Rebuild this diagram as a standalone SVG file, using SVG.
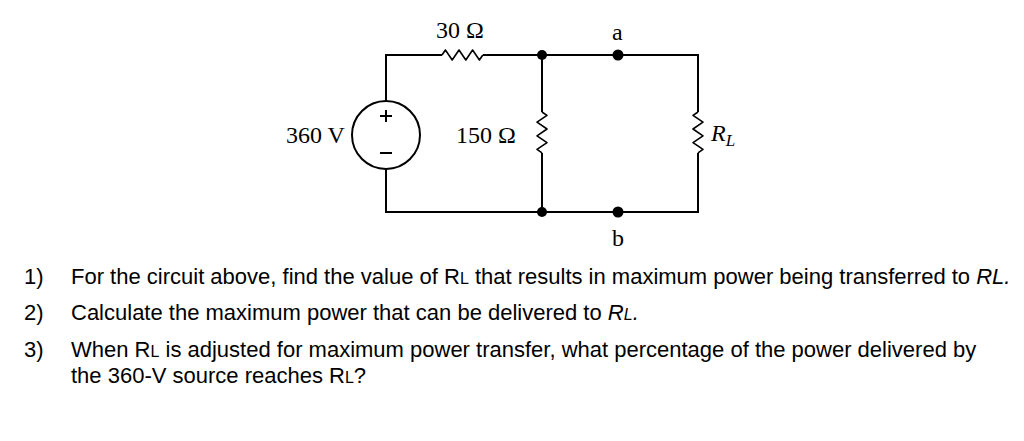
<svg xmlns="http://www.w3.org/2000/svg" width="1024" height="441" viewBox="0 0 1024 441">
<style>
.w{fill:none;stroke:#000;stroke-width:2}
.r{fill:none;stroke:#000;stroke-width:1.6;stroke-linejoin:round}
.s{font-family:"Liberation Serif",serif;font-size:24px;fill:#000}
.t{font-family:"Liberation Sans",Arial,sans-serif;font-size:22px;fill:#000}
.d{fill:#000}
</style>
<rect width="1024" height="441" fill="#fff"/>
<g id="connectors">
<path class="w" d="M386 101 V55 H442 M483 55 H698 V112 M698 153 V212 H386 V169 M542 55 V112 M542 153 V212"/>
</g>
<g id="source"><circle class="w" cx="386" cy="135" r="34"/><path class="w" d="M380 116 h12 M386 110 v12 M380 153 h12" stroke-width="1.5"/><text class="s" x="286" y="143">360 V</text></g>
<g id="r30"><path class="r" d="M442 55 l3.4 -5 l6.8 10 l6.8 -10 l6.8 10 l6.8 -10 l6.8 10 l3.4 -5"/><text class="s" x="436" y="38">30 Ω</text></g>
<g id="r150"><path class="r" d="M542 112 l5 3.4 l-10 6.8 l10 6.8 l-10 6.8 l10 6.8 l-10 6.8 l5 3.4"/><text class="s" x="456" y="143">150 Ω</text></g>
<g id="rl"><path class="r" d="M698 112 l-5 3.4 l10 6.8 l-10 6.8 l10 6.8 l-10 6.8 l10 6.8 l-5 3.4"/><text class="s" x="711" y="141" font-style="italic">R<tspan font-size="17" dy="5">L</tspan></text></g>
<g id="nodes">
<circle class="d" cx="542" cy="55" r="5"/><circle class="d" cx="618" cy="55" r="5.5"/>
<circle class="d" cx="542" cy="212" r="5"/><circle class="d" cx="618" cy="212" r="5.5"/>
<text class="s" x="612" y="40">a</text><text class="s" x="612" y="246">b</text>
</g>
<g id="text">
<text class="t" x="24" y="284">1)</text>
<text class="t" x="71" y="284">For the circuit above, find the value of R<tspan font-size="16">L</tspan> that results in maximum power being transferred to <tspan font-style="italic">RL.</tspan></text>
<text class="t" x="24" y="320">2)</text>
<text class="t" x="71" y="320">Calculate the maximum power that can be delivered to <tspan font-style="italic">R<tspan font-size="16">L</tspan>.</tspan></text>
<text class="t" x="24" y="357">3)</text>
<text class="t" x="71" y="357">When R<tspan font-size="16">L</tspan> is adjusted for maximum power transfer, what percentage of the power delivered by</text>
<text class="t" x="71" y="383">the 360-V source reaches R<tspan font-size="16">L</tspan>?</text>
</g>
</svg>
